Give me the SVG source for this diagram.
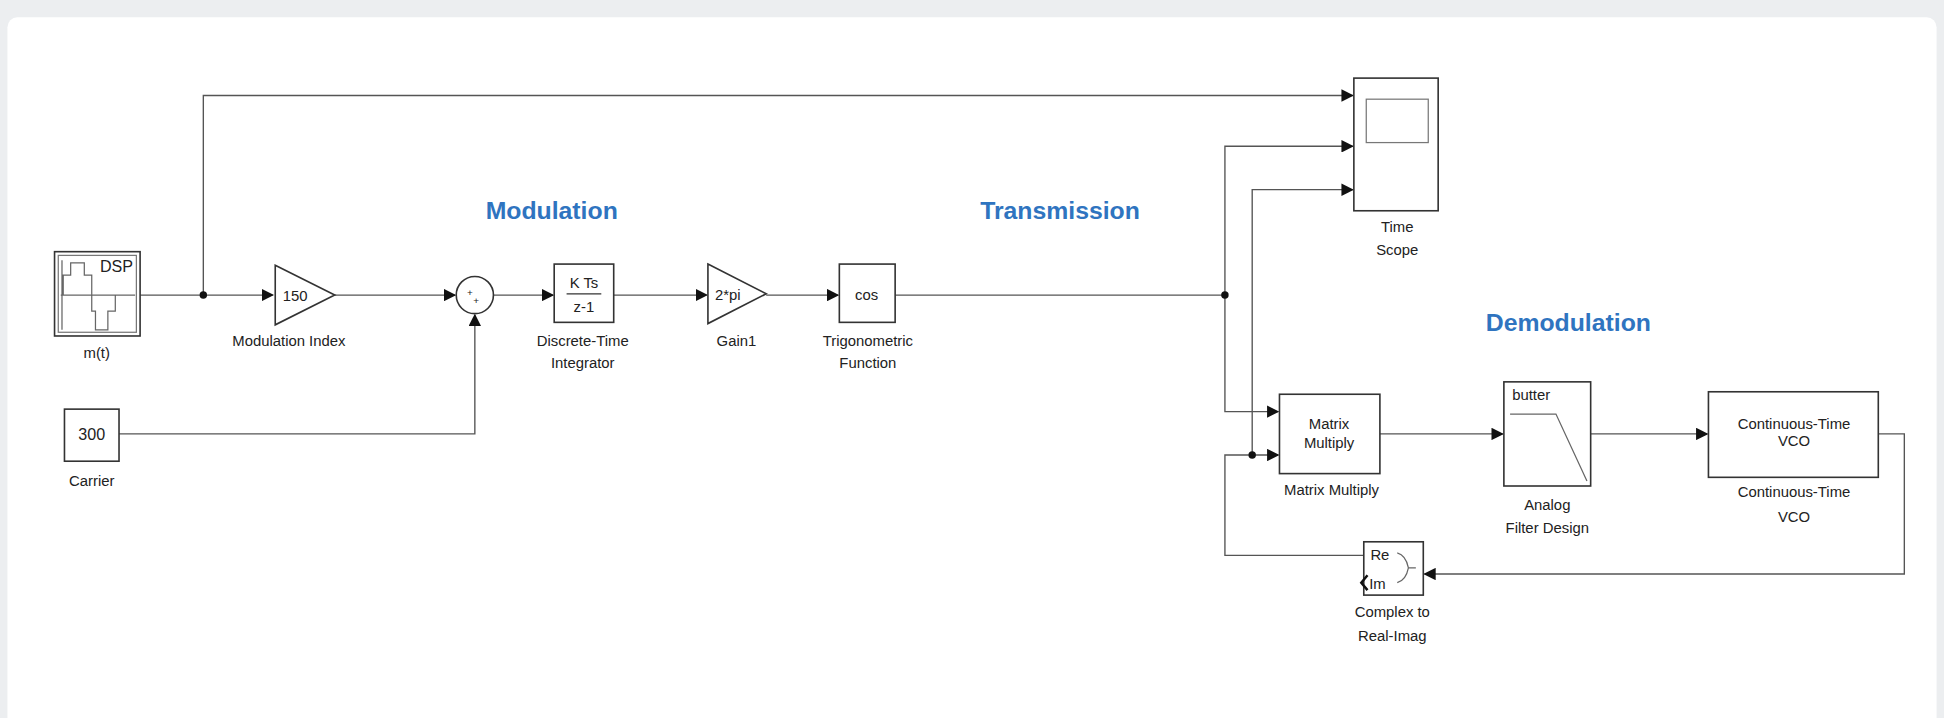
<svg xmlns="http://www.w3.org/2000/svg" width="1944" height="718" viewBox="0 0 1944 718">
<defs>
<marker id="a" markerWidth="10" markerHeight="10" refX="9" refY="5" orient="auto" markerUnits="userSpaceOnUse"><path d="M0,0 L10,5 L0,10 z" fill="#111"/></marker>
<style>
.b{fill:#fff;stroke:#333;stroke-width:1.3}
.w{fill:none;stroke:#555;stroke-width:1.1}
.t{font-family:"Liberation Sans",Arial,sans-serif;font-size:12px;fill:#222;text-anchor:middle}
.h{font-family:"Liberation Sans",Arial,sans-serif;font-size:20px;font-weight:bold;fill:#2f74c0;text-anchor:middle}
</style>
</defs>
<rect width="1944" height="718" fill="#eceef0"/>
<g transform="scale(1.2398)">
<rect x="6" y="14" width="1556" height="575" rx="8" fill="#fff"/>
<text class="h" x="445" y="177">Modulation</text>
<text class="h" x="855" y="177">Transmission</text>
<text class="h" x="1265" y="267">Demodulation</text>
<g id="connectors">
<path class="w" d="M113,238 H220" marker-end="url(#a)"/>
<path class="w" d="M164,238 V77 H1091" marker-end="url(#a)"/>
<path class="w" d="M270,238 H367" marker-end="url(#a)"/>
<path class="w" d="M96,350 H383 V254" marker-end="url(#a)"/>
<path class="w" d="M398,238 H446" marker-end="url(#a)"/>
<path class="w" d="M495,238 H570" marker-end="url(#a)"/>
<path class="w" d="M618,238 H676" marker-end="url(#a)"/>
<path class="w" d="M722,238 H988"/>
<path class="w" d="M988,238 V118 H1091" marker-end="url(#a)"/>
<path class="w" d="M988,238 V332 H1031" marker-end="url(#a)"/>
<path class="w" d="M1010,367 V153 H1091" marker-end="url(#a)"/>
<path class="w" d="M1100,448 H988 V367 H1031" marker-end="url(#a)"/>
<path class="w" d="M1113,350 H1212" marker-end="url(#a)"/>
<path class="w" d="M1283,350 H1377" marker-end="url(#a)"/>
<path class="w" d="M1515,350 H1536 V463 H1149" marker-end="url(#a)"/>
<circle cx="164" cy="238" r="3" fill="#111"/>
<circle cx="988" cy="238" r="3" fill="#111"/>
<circle cx="1010" cy="367" r="3" fill="#111"/>
</g>
<g id="mt">
<rect class="b" x="44" y="203" width="69" height="68"/>
<rect x="47" y="206" width="63" height="62" fill="none" stroke="#777"/>
<path d="M49,238 H109 M50,210 V266 M51,238 V222 H57 V212 H68 V222 H74 V238 V251 H77 V266 H87 V251 H93 V238" fill="none" stroke="#666"/>
<text class="t" x="94" y="219" style="font-size:13px">DSP</text>
<text class="t" x="78" y="289">m(t)</text>
</g>
<g id="gain150">
<path class="b" d="M222,214 L270,238 L222,262 Z"/>
<text class="t" x="238" y="243">150</text>
<text class="t" x="233" y="279">Modulation Index</text>
</g>
<g id="sum">
<circle class="b" cx="383" cy="238" r="15"/>
<text class="t" x="379" y="239" style="font-size:8px">+</text>
<text class="t" x="384" y="245" style="font-size:8px">+</text>
</g>
<g id="carrier">
<rect class="b" x="52" y="330" width="44" height="42"/>
<text class="t" x="74" y="355" style="font-size:13px">300</text>
<text class="t" x="74" y="392">Carrier</text>
</g>
<g id="integrator">
<rect class="b" x="447" y="213" width="48" height="47"/>
<text class="t" x="471" y="232">K Ts</text>
<line x1="457" y1="237" x2="485" y2="237" stroke="#333"/>
<text class="t" x="471" y="252">z-1</text>
<text class="t" x="470" y="279">Discrete-Time</text>
<text class="t" x="470" y="297">Integrator</text>
</g>
<g id="gain1">
<path class="b" d="M571,213 L618,237 L571,261 Z"/>
<text class="t" x="587" y="242">2*pi</text>
<text class="t" x="594" y="279">Gain1</text>
</g>
<g id="cos">
<rect class="b" x="677" y="213" width="45" height="47"/>
<text class="t" x="699" y="242">cos</text>
<text class="t" x="700" y="279">Trigonometric</text>
<text class="t" x="700" y="297">Function</text>
</g>
<g id="scope">
<rect class="b" x="1092" y="63" width="68" height="107"/>
<rect x="1102" y="80" width="50" height="35" fill="none" stroke="#777"/>
<text class="t" x="1127" y="187">Time</text>
<text class="t" x="1127" y="206">Scope</text>
</g>
<g id="matrix">
<rect class="b" x="1032" y="318" width="81" height="64"/>
<text class="t" x="1072" y="346">Matrix</text>
<text class="t" x="1072" y="361">Multiply</text>
<text class="t" x="1074" y="399">Matrix Multiply</text>
</g>
<g id="filter">
<rect class="b" x="1213" y="308" width="70" height="84"/>
<text class="t" x="1235" y="323">butter</text>
<path d="M1218,334 H1255 L1280,388" fill="none" stroke="#666"/>
<text class="t" x="1248" y="411">Analog</text>
<text class="t" x="1248" y="430">Filter Design</text>
</g>
<g id="vco">
<rect class="b" x="1378" y="316" width="137" height="69"/>
<text class="t" x="1447" y="346">Continuous-Time</text>
<text class="t" x="1447" y="360">VCO</text>
<text class="t" x="1447" y="401">Continuous-Time</text>
<text class="t" x="1447" y="421">VCO</text>
</g>
<g id="complex">
<rect class="b" x="1100" y="437" width="48" height="43"/>
<text class="t" x="1113" y="452">Re</text>
<text class="t" x="1111" y="475">Im</text>
<path d="M1127,446 Q1134,448 1136,458 Q1134,468 1127,470 M1136,458 H1142" fill="none" stroke="#666"/>
<path d="M1103,464 L1098,470 L1103,476" fill="none" stroke="#111" stroke-width="2"/>
<text class="t" x="1123" y="498">Complex to</text>
<text class="t" x="1123" y="517">Real-Imag</text>
</g>
</g>
</svg>
